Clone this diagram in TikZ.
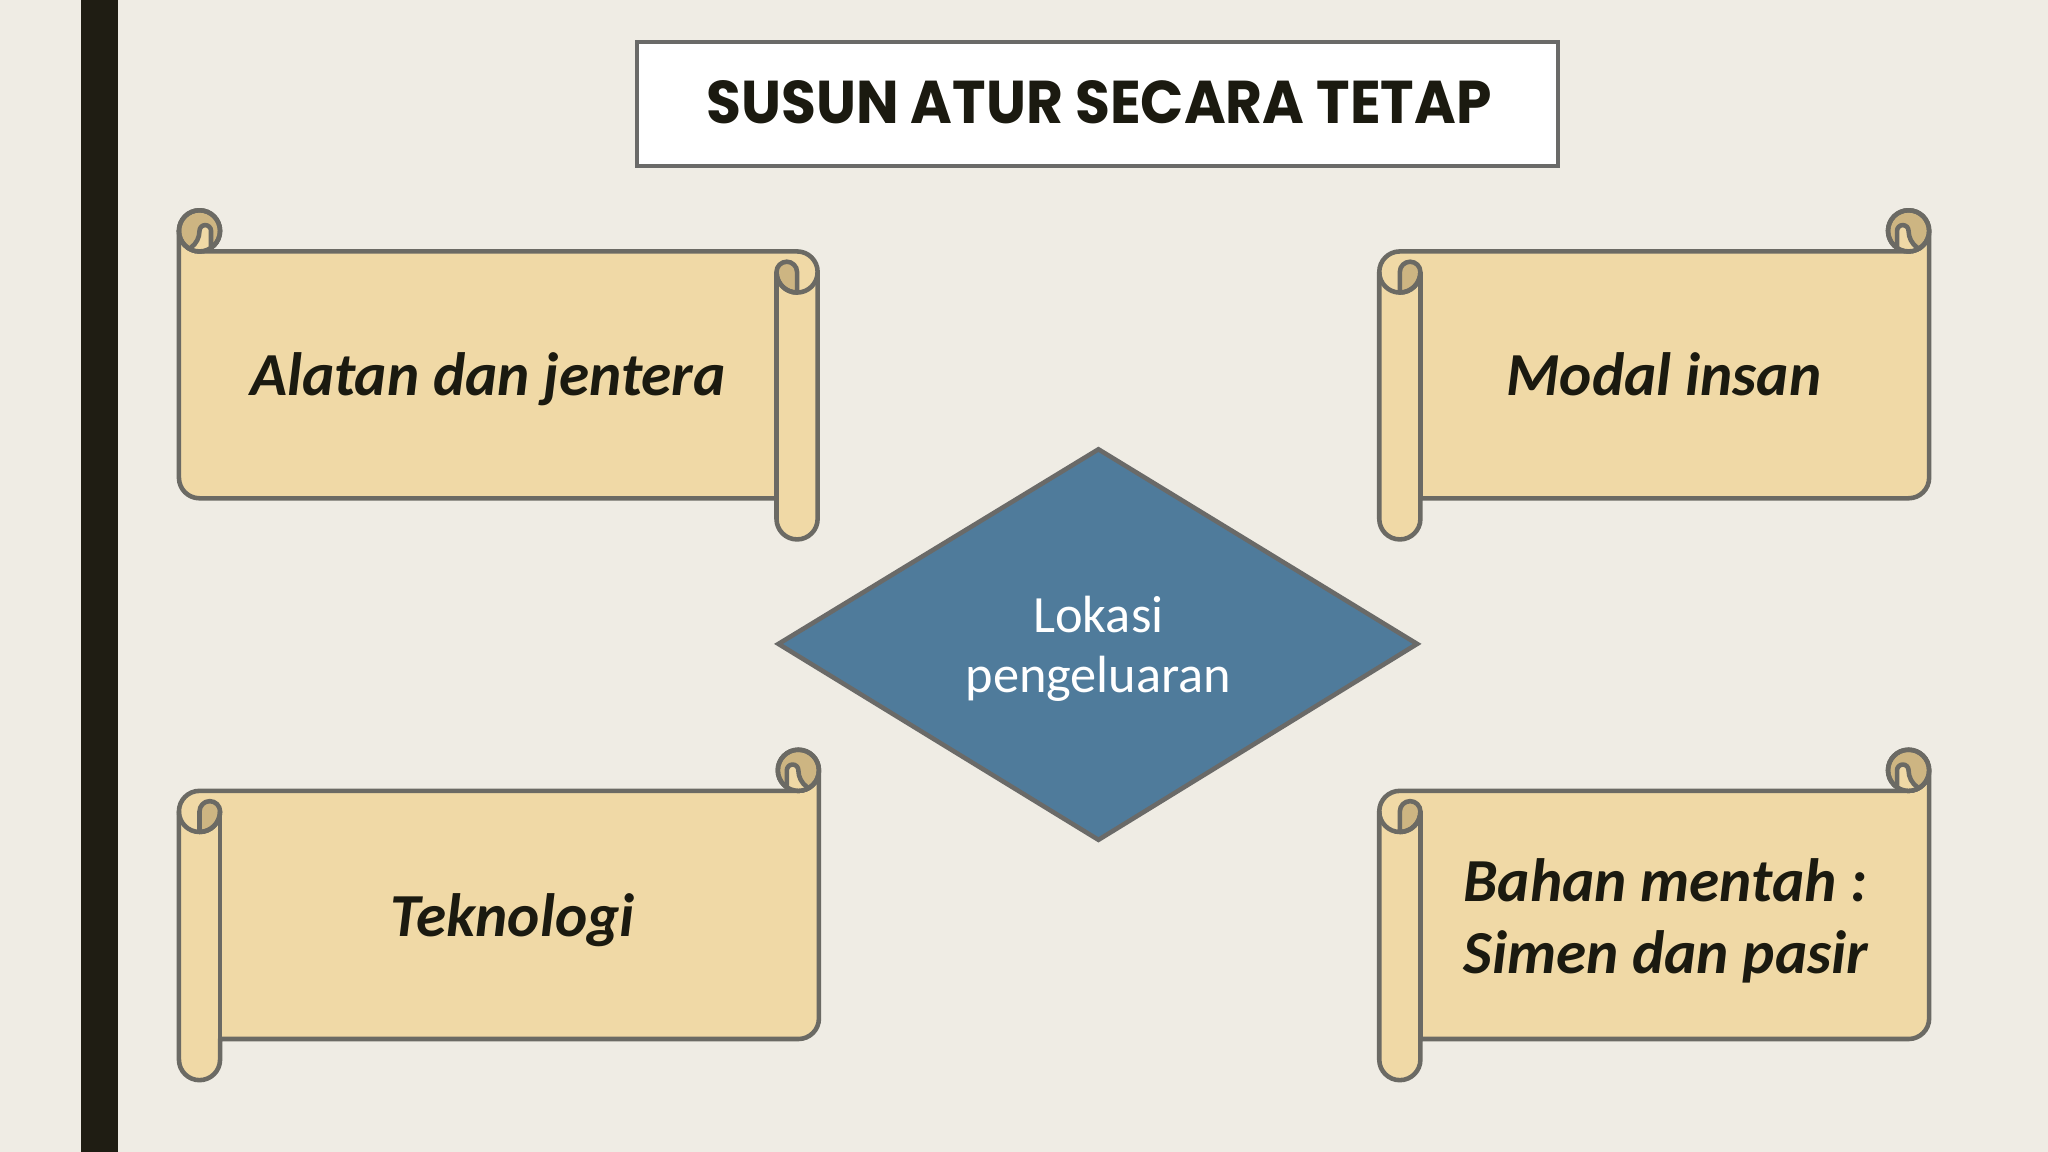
\documentclass[tikz,border=0pt]{standalone}
\usepackage{fontspec}
\setmainfont{Carlito}
\newfontfamily\titlefont{Poppins}
\definecolor{bgcol}{HTML}{EFECE4}
\definecolor{barcol}{HTML}{1F1D13}
\definecolor{scrollfill}{HTML}{F0D9A6}
\definecolor{scrolldark}{HTML}{CDB582}
\definecolor{scrollgray}{HTML}{6B6A64}
\definecolor{diafill}{HTML}{4F7B9B}
\definecolor{diagray}{HTML}{6A6A68}
\definecolor{txtcol}{HTML}{1B1A10}
\tikzset{
  scrollline/.style={draw=scrollgray,line width=1.3pt,line join=round},
  scrolltext/.style={text=txtcol,inner sep=0pt,font=\fontsize{17.4}{21}\selectfont\bfseries\itshape},
  lokatext/.style={text=white,inner sep=0pt,font=\fontsize{14.9}{17.9}\selectfont},
}
\newcommand\scrollpic[3]{%
  \pgfmathsetmacro\sW{#1}\pgfmathsetmacro\sH{#2}\pgfmathsetmacro\sC{#3}%
  \pgfmathsetmacro\hc{\sC/2}\pgfmathsetmacro\qc{\sC/4}\pgfmathsetmacro\lr{0.14*\sC}%
  \filldraw[scrollline,fill=scrollfill] (\hc,\sC) -- ({\sW-\hc},\sC)
    arc[start angle=90,end angle=0,radius=\hc] -- (\sW,{\sH-1.5*\sC})
    arc[start angle=0,end angle=90,radius=\hc] -- (\sC,{\sH-\sC}) -- (\sC,{\sH-\hc})
    arc[start angle=0,end angle=180,radius=\hc] -- (0,{1.5*\sC})
    arc[start angle=180,end angle=270,radius=\hc] -- cycle;
  % curl at the top
  \filldraw[scrollline,fill=scrolldark] ({\sW-\hc},\hc) circle[radius=\hc];
  \begin{scope}
    \clip ({\sW-\hc},\hc) circle[radius=\hc];
    \fill[scrollfill] ({\sW-0.78*\sC},\sC) -- ({\sW-0.78*\sC},\hc)
      arc[start angle=180,end angle=360,radius=\lr]
      arc[start angle=180,end angle=125,radius=\hc] -- ({\sW-0.2868*\sC},\sC) -- cycle;
  \end{scope}
  \draw[scrollline] ({\sW-0.78*\sC},{0.914*\sC}) -- ({\sW-0.78*\sC},\hc)
      arc[start angle=180,end angle=360,radius=\lr]
      arc[start angle=180,end angle=125,radius=\hc];
  \draw[scrollline] ({\sW-\hc},\hc) circle[radius=\hc];
  % roll at the side
  \filldraw[scrollline,fill=scrolldark] (\hc,{2*\sC}) -- (\hc,{1.5*\sC})
      arc[start angle=180,end angle=360,radius=\qc]
      arc[start angle=0,end angle=90,radius=\hc] -- cycle;
  \draw[scrollline] (0,{1.5*\sC}) arc[start angle=180,end angle=0,radius=\hc];
  \draw[scrollline] (\sC,{1.5*\sC}) -- (\sC,{\sH-\sC});
}
\begin{document}
\begin{tikzpicture}[x=0.0130612cm,y=-0.0130612cm]
\useasboundingbox (0,0) rectangle (1568,882);
\fill[bgcol] (0,0) rectangle (1568,882);
\fill[barcol] (62,0) rectangle (90,882);
% title
\node (titlebox) [draw=diagray,line width=1.1pt,fill=white,minimum width=9.208cm,minimum height=1.241cm,inner sep=0pt] at (840.5,79.5) {};
\node (title) [inner sep=0pt,text=txtcol] at (841.5,78) {\resizebox{7.85cm}{0.43cm}{\titlefont\bfseries SUSUN ATUR SECARA TETAP}};
% scrolls
\begin{scope}[shift={(626,161)},xscale=-1]
  \scrollpic{489}{252}{31.5}
\end{scope}
\begin{scope}[shift={(1056,161)}]
  \scrollpic{421}{252}{31.5}
\end{scope}
\begin{scope}[shift={(137,574)}]
  \scrollpic{490}{253}{31.5}
\end{scope}
\begin{scope}[shift={(1056,574)}]
  \scrollpic{421}{253}{31.5}
\end{scope}
\node (alatan) [scrolltext,anchor=base] at (373.5,303) {Alatan dan jentera};
\node (modal) [scrolltext,anchor=base] at (1274,303) {Modal insan};
\node (tekno) [scrolltext,anchor=base] at (392.5,717) {Teknologi};
\node (bahan1) [scrolltext,anchor=base west] at (1120,690) {Bahan mentah :};
\node (bahan2) [scrolltext,anchor=base west] at (1120,745) {Simen dan pasir};
% diamond
\coordinate (dtop) at (841,344);
\coordinate (dright) at (1085,493);
\coordinate (dbottom) at (841,643);
\coordinate (dleft) at (596,493);
\filldraw[fill=diafill,draw=diagray,line width=1.3pt,line join=miter] (dtop) -- (dright) -- (dbottom) -- (dleft) -- cycle;
\node (lok1) [lokatext,anchor=base] at (841,484) {Lokasi};
\node (lok2) [lokatext,anchor=base] at (841,530) {pengeluaran};
\end{tikzpicture}
\end{document}
